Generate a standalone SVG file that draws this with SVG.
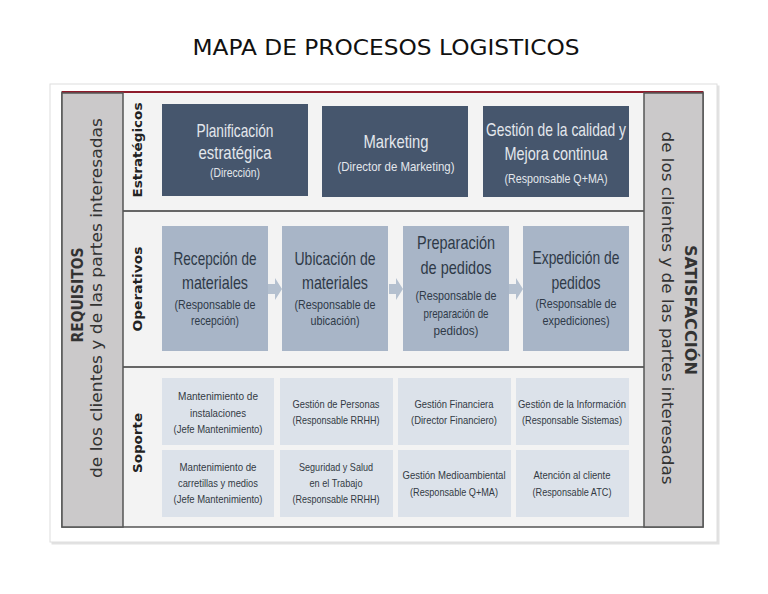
<svg xmlns="http://www.w3.org/2000/svg" xmlns:xlink="http://www.w3.org/1999/xlink" width="768" height="594" viewBox="0 0 768 594">
<defs>
<style>
.c{font-family:"Liberation Sans Narrow","Liberation Sans",Arial,sans-serif;text-anchor:middle}
.big{font-size:19px}
.med{font-size:13.5px}
.sm{font-size:11.5px}
.lt{fill:#e3e7ec}
.dk{fill:#2f3a48}
.sp{fill:#333a44}
.strat{fill:#46566d}
.oper{fill:#a8b5c7}
.supp{fill:#dce2ea}
.row{font-family:"DejaVu Sans",Verdana,sans-serif;font-weight:bold;font-size:12.5px;fill:#222;text-anchor:middle}
.side{font-family:"DejaVu Sans",Verdana,sans-serif;fill:#333;text-anchor:middle;dominant-baseline:central}
.arr{fill:#b4c0cf}
</style>
<path id="arrow" d="M0,-5 L7,-5 L7,-11 L14,0 L7,11 L7,5 L0,5 Z"/>
</defs>
<rect width="768" height="594" fill="#ffffff"/>
<text x="386" y="55" font-family="DejaVu Sans,Verdana,sans-serif" font-size="22" fill="#111" text-anchor="middle" textLength="387" lengthAdjust="spacingAndGlyphs">MAPA DE PROCESOS LOGISTICOS</text>

<g id="card">
<rect x="51.5" y="85.5" width="668" height="459" fill="#e2e2e2"/>
<rect x="50" y="84" width="667" height="458" fill="#ffffff" stroke="#dedede"/>
<rect x="62" y="92" width="641" height="435" fill="#f3f3f3" stroke="#555" stroke-width="1.5"/>
<line x1="62" y1="92" x2="703" y2="92" stroke="#8e1b2b" stroke-width="2"/>
<line x1="123" y1="211" x2="644" y2="211" stroke="#666" stroke-width="1.8"/>
<line x1="123" y1="367" x2="644" y2="367" stroke="#666" stroke-width="1.8"/>
</g>

<g id="requisitos">
<rect x="62" y="93" width="61" height="434" fill="#cbc9ca" stroke="#555" stroke-width="1.5"/>
<text class="side" transform="translate(78,295) rotate(-90)" font-size="15" font-weight="bold" textLength="95" lengthAdjust="spacingAndGlyphs">REQUISITOS</text>
<text class="side" transform="translate(97,298) rotate(-90)" font-size="15" textLength="360" lengthAdjust="spacingAndGlyphs">de los clientes y de las partes interesadas</text>
</g>

<g id="satisfaccion">
<rect x="644" y="93" width="59" height="434" fill="#cbc9ca" stroke="#555" stroke-width="1.5"/>
<text class="side" transform="translate(690,310) rotate(90)" font-size="15" font-weight="bold" textLength="130" lengthAdjust="spacingAndGlyphs">SATISFACCIÓN</text>
<text class="side" transform="translate(667,308) rotate(90)" font-size="15" textLength="353" lengthAdjust="spacingAndGlyphs">de los clientes y de las partes interesadas</text>
</g>

<g id="label-estrategicos"><text class="row" transform="translate(142,150) rotate(-90)" textLength="95" lengthAdjust="spacingAndGlyphs">Estratégicos</text></g>
<g id="label-operativos"><text class="row" transform="translate(142,289) rotate(-90)" textLength="85" lengthAdjust="spacingAndGlyphs">Operativos</text></g>
<g id="label-soporte"><text class="row" transform="translate(142,443) rotate(-90)" textLength="60" lengthAdjust="spacingAndGlyphs">Soporte</text></g>

<g id="planificacion">
<rect class="strat" x="162" y="104" width="146" height="92"/>
<text class="c big lt" x="235" y="137" textLength="77" lengthAdjust="spacingAndGlyphs">Planificación</text>
<text class="c big lt" x="235" y="159" textLength="73" lengthAdjust="spacingAndGlyphs">estratégica</text>
<text class="c med lt" x="235" y="177" textLength="50" lengthAdjust="spacingAndGlyphs">(Dirección)</text>
</g>
<g id="marketing">
<rect class="strat" x="322" y="106" width="146" height="91"/>
<text class="c big lt" x="396" y="148" textLength="65" lengthAdjust="spacingAndGlyphs">Marketing</text>
<text class="c med lt" x="396" y="171" textLength="117" lengthAdjust="spacingAndGlyphs">(Director de Marketing)</text>
</g>
<g id="calidad">
<rect class="strat" x="483" y="106" width="146" height="91"/>
<text class="c big lt" x="556" y="136" textLength="140" lengthAdjust="spacingAndGlyphs">Gestión de la calidad y</text>
<text class="c big lt" x="556" y="160" textLength="103" lengthAdjust="spacingAndGlyphs">Mejora continua</text>
<text class="c med lt" x="556" y="183" textLength="103" lengthAdjust="spacingAndGlyphs">(Responsable Q+MA)</text>
</g>

<g id="recepcion">
<rect class="oper" x="162" y="226" width="106" height="125"/>
<text class="c big dk" x="215" y="265" textLength="83" lengthAdjust="spacingAndGlyphs">Recepción de</text>
<text class="c big dk" x="215" y="289" textLength="66" lengthAdjust="spacingAndGlyphs">materiales</text>
<text class="c med dk" x="215" y="309" textLength="81" lengthAdjust="spacingAndGlyphs">(Responsable de</text>
<text class="c med dk" x="215" y="325" textLength="48" lengthAdjust="spacingAndGlyphs">recepción)</text>
</g>
<g id="ubicacion">
<rect class="oper" x="282" y="226" width="106" height="125"/>
<text class="c big dk" x="335" y="265" textLength="81" lengthAdjust="spacingAndGlyphs">Ubicación de</text>
<text class="c big dk" x="335" y="289" textLength="66" lengthAdjust="spacingAndGlyphs">materiales</text>
<text class="c med dk" x="335" y="309" textLength="81" lengthAdjust="spacingAndGlyphs">(Responsable de</text>
<text class="c med dk" x="335" y="325" textLength="49" lengthAdjust="spacingAndGlyphs">ubicación)</text>
</g>
<g id="preparacion">
<rect class="oper" x="403" y="226" width="106" height="125"/>
<text class="c big dk" x="456" y="249" textLength="78" lengthAdjust="spacingAndGlyphs">Preparación</text>
<text class="c big dk" x="456" y="274" textLength="71" lengthAdjust="spacingAndGlyphs">de pedidos</text>
<text class="c med dk" x="456" y="300" textLength="81" lengthAdjust="spacingAndGlyphs">(Responsable de</text>
<text class="c med dk" x="456" y="318" textLength="65" lengthAdjust="spacingAndGlyphs">preparación de</text>
<text class="c med dk" x="456" y="335" textLength="45" lengthAdjust="spacingAndGlyphs">pedidos)</text>
</g>
<g id="expedicion">
<rect class="oper" x="523" y="226" width="106" height="125"/>
<text class="c big dk" x="576" y="264" textLength="87" lengthAdjust="spacingAndGlyphs">Expedición de</text>
<text class="c big dk" x="576" y="289" textLength="49" lengthAdjust="spacingAndGlyphs">pedidos</text>
<text class="c med dk" x="576" y="308" textLength="81" lengthAdjust="spacingAndGlyphs">(Responsable de</text>
<text class="c med dk" x="576" y="325" textLength="67" lengthAdjust="spacingAndGlyphs">expediciones)</text>
</g>

<g id="connectors">
<use xlink:href="#arrow" href="#arrow" class="arr" transform="translate(268,289)"/>
<use xlink:href="#arrow" href="#arrow" class="arr" transform="translate(389,289)"/>
<use xlink:href="#arrow" href="#arrow" class="arr" transform="translate(509,289)"/>
</g>

<g id="mant-instalaciones">
<rect class="supp" x="162" y="378" width="112" height="67"/>
<text class="c sm sp" x="218" y="400" textLength="80" lengthAdjust="spacingAndGlyphs">Mantenimiento  de</text>
<text class="c sm sp" x="218" y="417" textLength="56" lengthAdjust="spacingAndGlyphs">instalaciones</text>
<text class="c sm sp" x="218" y="433" textLength="89" lengthAdjust="spacingAndGlyphs">(Jefe Mantenimiento)</text>
</g>
<g id="personas">
<rect class="supp" x="280" y="378" width="113" height="67"/>
<text class="c sm sp" x="336" y="408" textLength="87" lengthAdjust="spacingAndGlyphs">Gestión de Personas</text>
<text class="c sm sp" x="336" y="424" textLength="87" lengthAdjust="spacingAndGlyphs">(Responsable RRHH)</text>
</g>
<g id="financiera">
<rect class="supp" x="398" y="378" width="113" height="67"/>
<text class="c sm sp" x="454" y="408" textLength="79" lengthAdjust="spacingAndGlyphs">Gestión Financiera</text>
<text class="c sm sp" x="454" y="424" textLength="86" lengthAdjust="spacingAndGlyphs">(Director Financiero)</text>
</g>
<g id="informacion">
<rect class="supp" x="516" y="378" width="113" height="67"/>
<text class="c sm sp" x="572" y="408" textLength="108" lengthAdjust="spacingAndGlyphs">Gestión de la Información</text>
<text class="c sm sp" x="572" y="424" textLength="100" lengthAdjust="spacingAndGlyphs">(Responsable Sistemas)</text>
</g>
<g id="mant-carretillas">
<rect class="supp" x="162" y="450" width="112" height="67"/>
<text class="c sm sp" x="218" y="471" textLength="77" lengthAdjust="spacingAndGlyphs">Mantenimiento de</text>
<text class="c sm sp" x="218" y="487" textLength="80" lengthAdjust="spacingAndGlyphs">carretillas y medios</text>
<text class="c sm sp" x="218" y="503" textLength="89" lengthAdjust="spacingAndGlyphs">(Jefe Mantenimiento)</text>
</g>
<g id="seguridad">
<rect class="supp" x="280" y="450" width="113" height="67"/>
<text class="c sm sp" x="336" y="471" textLength="74" lengthAdjust="spacingAndGlyphs">Seguridad y Salud</text>
<text class="c sm sp" x="336" y="487" textLength="53" lengthAdjust="spacingAndGlyphs">en el Trabajo</text>
<text class="c sm sp" x="336" y="503" textLength="87" lengthAdjust="spacingAndGlyphs">(Responsable RRHH)</text>
</g>
<g id="medioambiental">
<rect class="supp" x="398" y="450" width="113" height="67"/>
<text class="c sm sp" x="454" y="479" textLength="103" lengthAdjust="spacingAndGlyphs">Gestión Medioambiental</text>
<text class="c sm sp" x="454" y="496" textLength="88" lengthAdjust="spacingAndGlyphs">(Responsable Q+MA)</text>
</g>
<g id="atencion">
<rect class="supp" x="516" y="450" width="113" height="67"/>
<text class="c sm sp" x="572" y="479" textLength="77" lengthAdjust="spacingAndGlyphs">Atención al cliente</text>
<text class="c sm sp" x="572" y="496" textLength="79" lengthAdjust="spacingAndGlyphs">(Responsable ATC)</text>
</g>
</svg>
